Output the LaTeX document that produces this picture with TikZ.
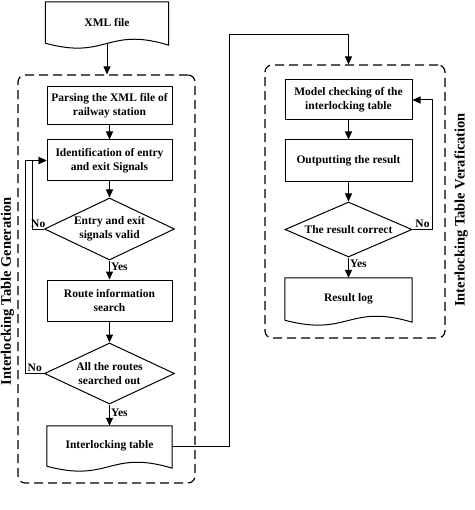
\documentclass[tikz,border=0pt]{standalone}
\usepackage{fontspec}
\setmainfont{Liberation Serif}
\usetikzlibrary{calc,shapes.geometric,arrows.meta}

\tikzset{
	boxtext/.style={font=\bfseries\fontsize{11.5}{14}\selectfont, align=center},
	procbox/.style={boxtext, draw, line width=1pt, minimum width=125pt, minimum height=41pt, inner sep=2pt},
	docbox/.style={boxtext, minimum width=125pt, minimum height=41pt, inner sep=2pt},
	decision/.style={boxtext, diamond, draw, line width=1pt, aspect=2, inner sep=0pt, minimum width=130pt, minimum height=62pt},
	groupbox/.style={draw, line width=1.2pt, dash pattern=on 9pt off 5pt, rounded corners=7pt},
	flowarrow/.style={draw, line width=1pt, -{Triangle[length=8pt,width=7pt]}},
	flowlab/.style={font=\bfseries\fontsize{11.5}{14}\selectfont, inner sep=1pt},
	sidelabel/.style={font=\bfseries\fontsize{14.5}{17}\selectfont, rotate=90, inner sep=0pt}
}
\newcommand\docshape[1]{\draw[line width=1pt] (#1.south west) -- (#1.north west) -- (#1.north east) -- ($(#1.south east)+(0,2)$) .. controls ($(#1.south)+(0,-17)$) and ($(#1.south)+(0,17)$) .. (#1.south west);}

\begin{document}
\begin{tikzpicture}[x=1pt, y=-1pt]
		%%%%% START %%%%%
		\useasboundingbox (0,0) rectangle (474,510);
		
		% generation part
		\node[groupbox, minimum width=177pt, minimum height=408pt] (gen) at (106.5,279) {};
		\node[docbox, minimum width=123pt] (xml) at (107,22.5) {XML file};
		\docshape{xml}
		\node[procbox, minimum height=38pt] (parse) at (109.5,106) {Parsing the XML file of\\railway station};
		\node[procbox] (ident) at (109.5,160.5) {Identification of entry\\and exit Signals};
		\node[decision] (valid) at (109.5,229) {Entry and exit\\signals valid};
		\node[procbox] (route) at (109.5,300.5) {Route information\\search};
		\node[decision, minimum height=61pt] (allout) at (109.5,373.5) {All the routes\\searched out};
		\node[docbox, minimum height=40pt] (itable) at (109.5,446) {Interlocking table};
		\docshape{itable}
		
		% verification part
		\node[groupbox, minimum width=180pt, minimum height=273pt] (ver) at (355,201.5) {};
		\node[procbox, minimum width=127pt, minimum height=40pt] (model) at (348.5,100) {Model checking of the\\interlocking table};
		\node[procbox, minimum width=127pt, minimum height=42pt] (output) at (348.5,161) {Outputting the result};
		\node[decision, minimum width=127pt, minimum height=55pt] (correct) at (348.5,229.5) {The result correct};
		\node[docbox, minimum width=127pt, minimum height=42pt] (rlog) at (348.5,299) {Result log};
		\docshape{rlog}
		
		\node[sidelabel] (genlab) at (7.5,291.5) {Interlocking Table Generation};
		\node[sidelabel] (verlab) at (461,210) {Interlocking Table Verafication};
		
		% arrows
		\draw[flowarrow] (xml.south) -- (xml.south |- gen.north);
		\draw[flowarrow] (parse) -- (ident);
		\draw[flowarrow] (ident) -- (valid);
		\draw[flowarrow] (valid) -- node[flowlab, anchor=west, pos=0.35] {Yes} (route);
		\draw[flowarrow] (route) -- (allout);
		\draw[flowarrow] (allout) -- node[flowlab, anchor=west, pos=0.4] {Yes} (itable);
		\draw[flowarrow] (valid.west) -- node[flowlab, above] {No} ++(-11.5,0) |- (ident.west);
		\draw[flowarrow] (allout.west) -- node[flowlab, above] {No} ++(-18.5,0) |- (ident.west);
		
		\coordinate (bend) at (229,35);
		\draw[flowarrow] (itable.east) -| (bend) -| (model.north |- ver.north);
		
		\draw[flowarrow] (model) -- (output);
		\draw[flowarrow] (output) -- (correct);
		\draw[flowarrow] (correct) -- node[flowlab, anchor=west, pos=0.3] {Yes} (rlog);
		\draw[flowarrow] (correct.east) -- node[flowlab, above] {No} ++(20,0) |- (model.east);
		%%%%% END %%%%%
\end{tikzpicture}
\end{document}
